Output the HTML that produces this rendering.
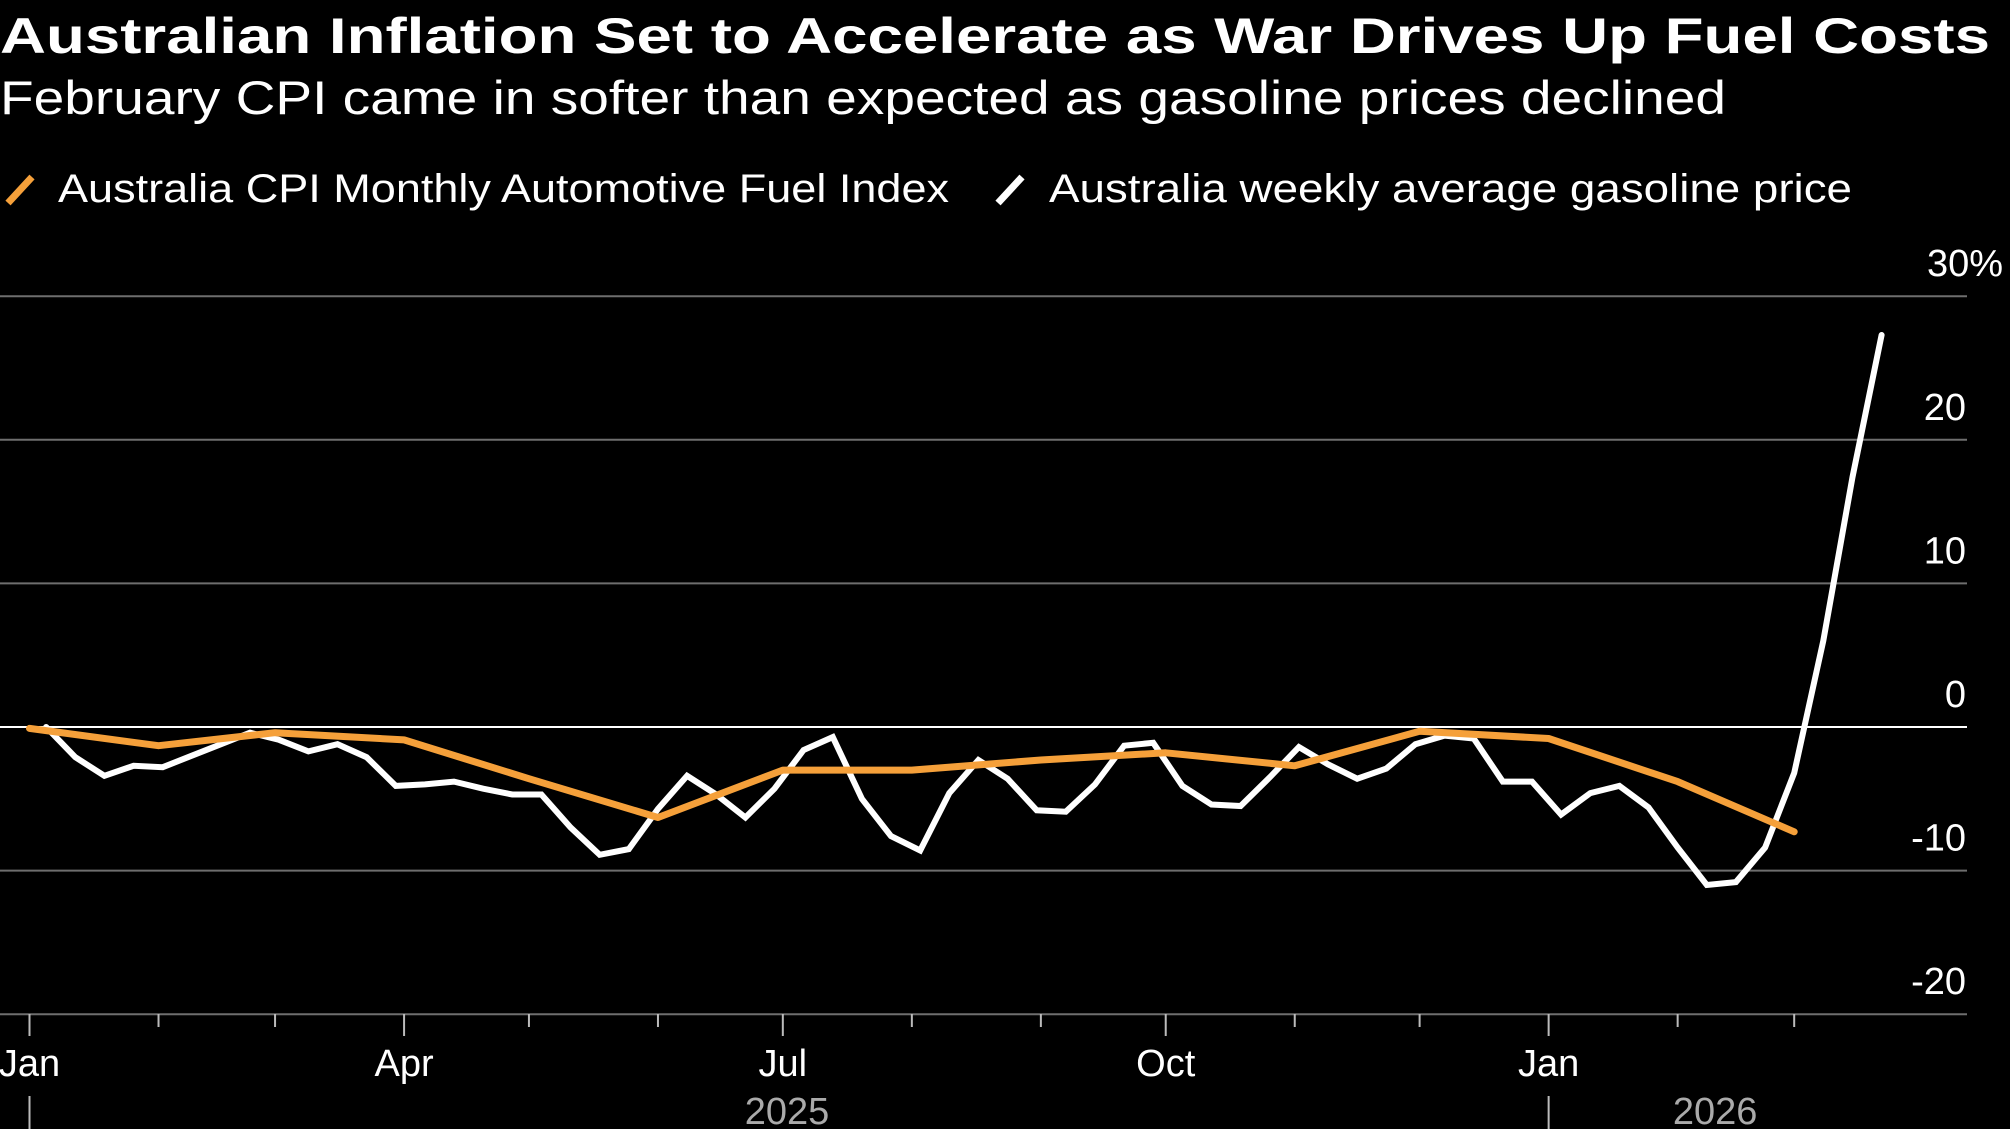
<!DOCTYPE html>
<html><head><meta charset="utf-8"><style>
html,body{margin:0;padding:0;background:#000;}
svg{display:block;}
text{font-family:"Liberation Sans",sans-serif;fill:#fff;}
</style></head><body>
<svg id="chart" width="2010" height="1129" viewBox="0 0 2010 1129" xmlns="http://www.w3.org/2000/svg">
<rect width="2010" height="1129" fill="#000"/>
<text x="0" y="53" font-size="50" font-weight="bold" textLength="1990" lengthAdjust="spacingAndGlyphs">Australian Inflation Set to Accelerate as War Drives Up Fuel Costs</text>
<text x="0" y="114" font-size="47" textLength="1726" lengthAdjust="spacingAndGlyphs">February CPI came in softer than expected as gasoline prices declined</text>
<g>
<g>
<line x1="8" y1="203" x2="32" y2="177" stroke="#f5a03a" stroke-width="7"/>
<text x="58" y="202" font-size="40" textLength="891" lengthAdjust="spacingAndGlyphs">Australia CPI Monthly Automotive Fuel Index</text>
</g>
<g>
<line x1="998" y1="203" x2="1022" y2="177" stroke="#fff" stroke-width="7"/>
<text x="1049" y="202" font-size="40" textLength="803" lengthAdjust="spacingAndGlyphs">Australia weekly average gasoline price</text>
</g>
</g>
<g id="grid"></g>
<g id="xaxis"></g>
<g id="series"></g>
</svg>
<script>
const yTicks = [30, 20, 10, 0, -10, -20];
const yTickLabels = ["30%", "20", "10", "0", "-10", "-20"];
const monthTicks = ["2025-01-01","2025-02-01","2025-03-01","2025-04-01","2025-05-01","2025-06-01","2025-07-01","2025-08-01","2025-09-01","2025-10-01","2025-11-01","2025-12-01","2026-01-01","2026-02-01","2026-03-01"];
const monthLabels = ["Jan","","","Apr","","","Jul","","","Oct","","","Jan","",""];
const yearLabels = [["2025","2025-07-02"],["2026","2026-02-10"]];
const cpiDates = ["2025-01-01","2025-02-01","2025-03-01","2025-04-01","2025-05-01","2025-06-01","2025-07-01","2025-08-01","2025-09-01","2025-10-01","2025-11-01","2025-12-01","2026-01-01","2026-02-01","2026-03-01"];
const cpiValues = [-0.1,-1.3,-0.4,-0.9,-3.6,-6.3,-3.0,-3.0,-2.3,-1.8,-2.7,-0.3,-0.8,-3.8,-7.3];
const gasStart = "2025-01-05";
const gasValues = [0,-2.1,-3.4,-2.7,-2.8,-2.0,-1.2,-0.4,-0.9,-1.7,-1.2,-2.1,-4.1,-4.0,-3.8,-4.3,-4.7,-4.7,-7.0,-8.9,-8.5,-5.7,-3.4,-4.7,-6.3,-4.3,-1.6,-0.7,-5.0,-7.6,-8.6,-4.6,-2.3,-3.6,-5.8,-5.9,-4.0,-1.3,-1.1,-4.1,-5.4,-5.5,-3.5,-1.4,-2.6,-3.6,-2.9,-1.2,-0.6,-0.8,-3.8,-3.8,-6.1,-4.6,-4.1,-5.6,-8.4,-11.0,-10.8,-8.4,-3.2,6.0,17.4,27.3];

const NS = "http://www.w3.org/2000/svg";
const T0 = Date.UTC(2025,0,1);
const DAY = 86400000;
function xScale(d){ return 29.5 + ((Date.parse(d+"T00:00:00Z") - T0)/DAY) * 4.162; }
function xDays(n){ return 29.5 + n*4.162; }
function yScale(v){ return 727 - v*14.36; }
function mk(tag, attrs, parent){ const e=document.createElementNS(NS,tag); for(const k in attrs) e.setAttribute(k,attrs[k]); parent.appendChild(e); return e; }

const grid=document.getElementById('grid');
yTicks.forEach((t,i)=>{
  const y=yScale(t);
  const ln=mk('line',{x1:0,x2:1967,y1:y,y2:y,stroke:(t===0?'#fff':'#6e6e6e'),'stroke-width':2},grid);
  
  
  const tx=mk('text',{x:(i===0?2003:1966),y:y-20,'font-size':38,'text-anchor':'end'},grid);
  tx.textContent=yTickLabels[i];
  
  
});
const xa=document.getElementById('xaxis');
monthTicks.forEach((d,i)=>{
  const x=xScale(d);
  const major=monthLabels[i]!=="";
  const tk=mk('line',{x1:x,x2:x,y1:1014,y2:major?1036:1027,stroke:'#bbb','stroke-width':2},xa);
  
  
  if(major){
    const tx=mk('text',{x:x,y:1076,'font-size':38,'text-anchor':'middle'},xa);
    tx.textContent=monthLabels[i];
    
    
  }
  if(d.endsWith("01-01")){
    const sep=mk('line',{x1:x,x2:x,y1:1096,y2:1129,stroke:'#bbb','stroke-width':2},xa);
    
    
  }
});
yearLabels.forEach(([lab,d])=>{
  const tx=mk('text',{x:xScale(d),y:1124,'font-size':38,'text-anchor':'middle',style:'fill:#aaa'},xa);
  tx.textContent=lab;
  
  
});
const sg=document.getElementById('series');
const g0=(Date.parse(gasStart+"T00:00:00Z")-T0)/DAY;
const gasPts=gasValues.map((v,i)=>xDays(g0+7*i).toFixed(1)+","+yScale(v).toFixed(1)).join(" ");
const gl=mk('polyline',{points:gasPts,fill:'none',stroke:'#fff','stroke-width':6,'stroke-linejoin':'miter','stroke-linecap':'round'},sg);


const cpiPts=cpiValues.map((v,i)=>xScale(cpiDates[i]).toFixed(1)+","+yScale(v).toFixed(1)).join(" ");
const cl=mk('polyline',{points:cpiPts,fill:'none',stroke:'#f5a03a','stroke-width':7,'stroke-linejoin':'round','stroke-linecap':'round'},sg);


</script>
</body></html>
